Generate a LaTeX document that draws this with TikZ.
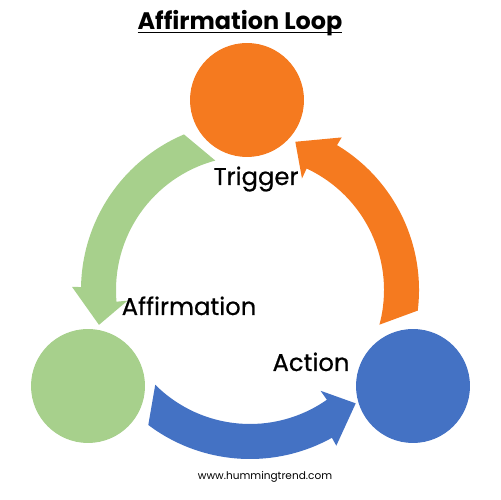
\documentclass[tikz,border=0pt]{standalone}
\usepackage{fontspec}
\setmainfont{Poppins}
\newfontfamily\labelfont{Poppins}[FakeBold=0.6]
\usetikzlibrary{calc}
\definecolor{trigorange}{HTML}{F57A1F}
\definecolor{affgreen}{HTML}{A7D08C}
\definecolor{actblue}{HTML}{4472C4}

% curved block arrow round (C); #1 colour, #2 turn
\newcommand{\loopArrow}[2]{%
  \fill[#1] ($(C)+(105+#2:134)$) -- ($(C)+(113+#2:169)$)
    arc[start angle=113+#2, end angle=179+#2, radius=169]
    -- ($(C)+(179+#2:178)$) -- ($(C)+(193+#2:155)$) -- ($(C)+(185+#2:123)$)
    -- ($(C)+(185+#2:134)$) arc[start angle=185+#2, end angle=105+#2, radius=134]
    -- cycle;}

\begin{document}
\begin{tikzpicture}[x=0.02cm, y=0.02cm,
  stage/.style={circle, minimum size=2.28cm, inner sep=0pt},
  lbl/.style={anchor=base, font=\labelfont\fontsize{13.8}{16}\selectfont}]
\useasboundingbox (0,0) rectangle (500,500);
\coordinate (C) at (250,210);

% Stages
\node[stage, fill=trigorange] (trigger) at (247,400) {};
\node[stage, fill=affgreen] (affirmation) at (88,114) {};
\node[stage, fill=actblue] (action) at (413,114) {};

% Labels
\node[lbl, font=\fontsize{13.6}{16}\selectfont] (title) at (240,470) {\bfseries\underline{\smash{Affirmation Loop}}};
\node[lbl] (triggertext) at (256,315) {Trigger};
\node[lbl] (afftext) at (189,185) {Affirmation};
\node[lbl] (actiontext) at (311,129) {Action};
\node[font=\fontsize{6}{8}\selectfont] (url) at (265,23) {www.hummingtrend.com};

% Loop arrows
\loopArrow{affgreen}{0}
\loopArrow{actblue}{120}
\loopArrow{trigorange}{240}
\end{tikzpicture}
\end{document}
